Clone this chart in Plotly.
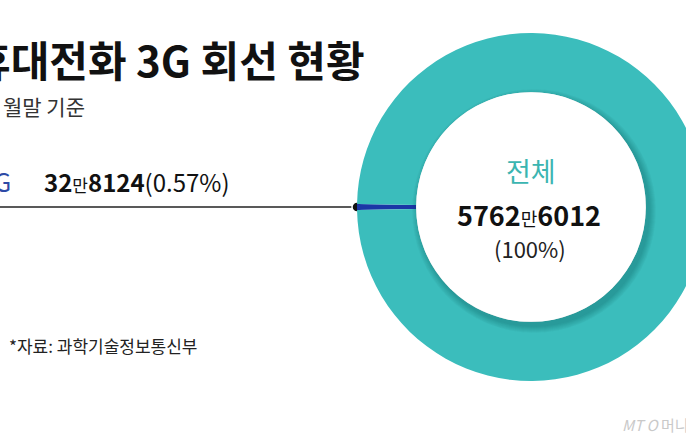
import plotly.graph_objects as go

# data
labels = ["3G", "기타"]
total_lines = 57626012
lines_3g = 328124
values = [lines_3g, total_lines - lines_3g]
share_3g = lines_3g / total_lines * 100

title = "휴대전화 3G 회선 현황"
subtitle = "월말 기준"
source = "*자료: 과학기술정보통신부"
center_label = "전체"

W, H = 706, 440
FONT = "Noto Sans CJK KR"
TEAL = "#3bbdbc"
BLUE = "#1b36a6"

# donut geometry (pixels)
CX, CY, R_OUT = 531, 207, 174
HOLE = 0.66
R_IN = R_OUT * HOLE


def man(v):
    # 328124 -> 32만8124 style
    return v // 10000, v % 10000


fig = go.Figure()

# donut: 3G slice centered at 9 o'clock
fig.add_trace(go.Pie(
    labels=labels, values=values, hole=HOLE, sort=False,
    direction="clockwise", rotation=270 - share_3g * 3.6 / 2,
    marker=dict(colors=[BLUE, TEAL], line=dict(width=0)),
    textinfo="none", hoverinfo="skip", showlegend=False,
    domain=dict(x=[(CX - R_OUT) / W, (CX + R_OUT) / W],
                y=[1 - (CY + R_OUT) / H, 1 - (CY - R_OUT) / H]),
))

# leader line to the 3G slice
fig.add_trace(go.Scatter(
    x=[0, CX - R_OUT], y=[CY, CY], mode="lines",
    line=dict(color="#222222", width=1.6), hoverinfo="skip", showlegend=False,
))
fig.add_trace(go.Scatter(
    x=[CX - R_OUT], y=[CY], mode="markers",
    marker=dict(color="#111111", size=10, line=dict(color="white", width=1.5)),
    hoverinfo="skip", showlegend=False,
))

# soft shadow of the inner white disc
shapes = []
for k in range(7, 0, -1):
    r = R_IN + k
    shapes.append(dict(type="circle", xref="x", yref="y", layer="above",
                       x0=CX + 3 - r, x1=CX + 3 + r, y0=CY + 4 - r, y1=CY + 4 + r,
                       fillcolor="rgba(0,60,60,0.045)", line=dict(width=0)))
shapes.append(dict(type="circle", xref="x", yref="y", layer="above",
                   x0=CX - R_IN, x1=CX + R_IN, y0=CY - R_IN, y1=CY + R_IN,
                   fillcolor="white", line=dict(width=0)))

a, b = man(lines_3g)
ta, tb = man(total_lines)

anns = [
    dict(x=-30 / W, y=1 - 59 / H, xref="paper", yref="paper",
         text="<b>" + title + "</b>", xanchor="left",
         font=dict(size=42, color="#111111")),
    dict(x=1, y=106, text=subtitle, xanchor="left",
         font=dict(size=21, color="#333333")),
    dict(x=13, y=181, text="3G", xanchor="right",
         font=dict(size=25, color="#2d4aa6")),
    dict(x=42, y=181, xanchor="left",
         text="<b>%d</b><span style='font-size:17px'>만</span><b>%d</b>(%.2f%%)" % (a, b, share_3g),
         font=dict(size=24, color="#111111")),
    dict(x=531, y=170, text=center_label,
         font=dict(size=27, color="#3bb5b1")),
    dict(x=529, y=214,
         text="<b>%d</b><span style='font-size:18px'>만</span><b>%d</b>" % (ta, tb),
         font=dict(size=27, color="#111111")),
    dict(x=530, y=248, text="(100%)",
         font=dict(size=22, color="#222222")),
    dict(x=7, y=345, text=source, xanchor="left",
         font=dict(size=17, color="#222222")),
    dict(x=620, y=424, text="<i>MT</i> <i>O</i> 머니투데이", xanchor="left",
         font=dict(size=15, color="#c9c9c9")),
]
for an in anns:
    an.setdefault("xref", "x")
    an.setdefault("yref", "y")
    an.setdefault("xanchor", "center")
    an.update(showarrow=False, yanchor="middle")

fig.update_layout(
    width=W, height=H, autosize=False,
    margin=dict(l=0, r=0, t=0, b=0),
    paper_bgcolor="white", plot_bgcolor="white",
    font=dict(family=FONT),
    xaxis=dict(range=[0, W], visible=False, fixedrange=True),
    yaxis=dict(range=[H, 0], visible=False, fixedrange=True),
    shapes=shapes,
    annotations=anns,
)

fig.write_html("out.html", config={"displayModeBar": False},
               post_script="document.body.style.margin='0';document.body.style.overflow='hidden';")
